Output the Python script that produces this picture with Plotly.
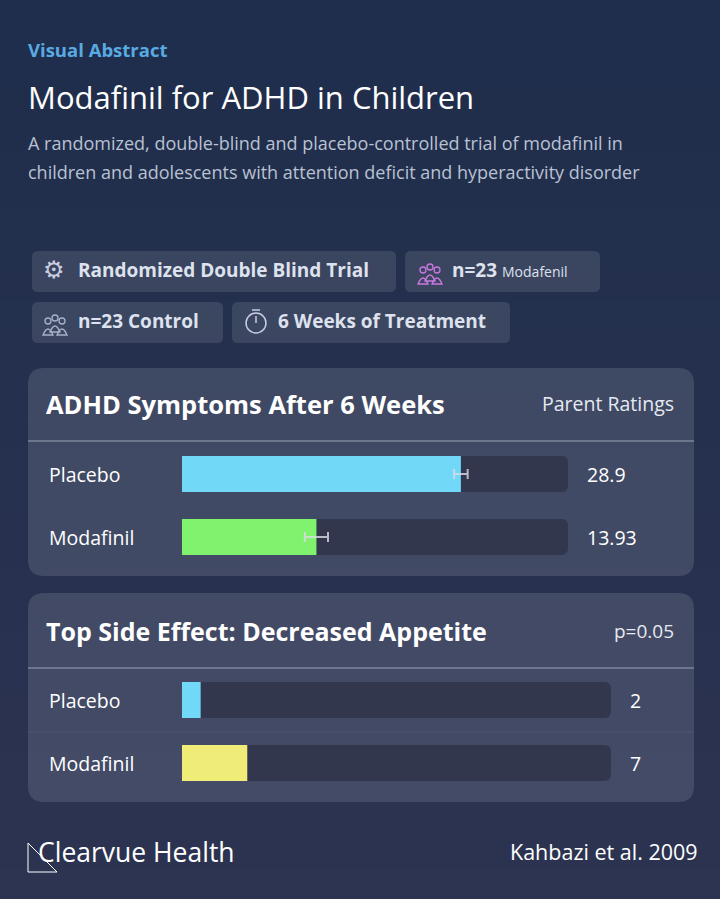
import plotly.graph_objects as go

W, H = 720, 899
groups = ["Placebo", "Modafinil"]
symptom_vals = [28.9, 13.93]
symptom_err = [0.7, 1.2]
symptom_labels = ["28.9", "13.93"]
appetite_vals = [2, 7]
appetite_labels = ["2", "7"]
sym_max = 40
app_max = 46

def px(x): return x / W
def py(y): return 1 - y / H

fig = go.Figure()
sym_colors = ["#72d8f7", "#80f26e"]
app_colors = ["#72d8f7", "#f0ec78"]
track = "rgba(38,40,58,0.55)"

for ax, vals, mx, cols, err in [("", symptom_vals, sym_max, sym_colors, symptom_err),
                                ("2", appetite_vals, app_max, app_colors, None)]:
    fig.add_trace(go.Bar(x=[mx]*2, y=[0, 1], orientation="h", width=0.57,
                         marker=dict(color=track, cornerradius=6, line_width=0),
                         xaxis="x"+ax, yaxis="y"+ax, hoverinfo="skip", showlegend=False))
    fig.add_trace(go.Bar(x=vals, y=[0, 1], orientation="h", width=0.57,
                         marker=dict(color=cols, cornerradius=6, line_width=0),
                         error_x=dict(type="data", array=err, color="rgba(220,220,230,0.8)", thickness=2, width=5) if err else None,
                         xaxis="x"+ax, yaxis="y"+ax, showlegend=False))

ax_common = dict(showgrid=False, zeroline=False, showticklabels=False, fixedrange=True)
fig.update_layout(
    width=W, height=H, margin=dict(l=0, r=0, t=0, b=0),
    paper_bgcolor="#263552", plot_bgcolor="rgba(0,0,0,0)", barmode="overlay",
    font=dict(family="Open Sans, Lato, sans-serif", color="white"),
    xaxis=dict(domain=[px(182), px(568)], range=[0, sym_max], anchor="y", **ax_common),
    yaxis=dict(domain=[py(568.5), py(442.5)], range=[1.5, -0.5], anchor="x", **ax_common),
    xaxis2=dict(domain=[px(182), px(611)], range=[0, app_max], anchor="y2", **ax_common),
    yaxis2=dict(domain=[py(794.5), py(668.5)], range=[1.5, -0.5], anchor="x2", **ax_common),
)

shapes = []
for i in range(30):
    t = i / 29
    c = (int(31 + 14*t), int(46 + 6*t), int(76 + 6*t))
    shapes.append(dict(type="rect", xref="paper", yref="paper", x0=0, x1=1,
                       y0=1 - (i+1)/30, y1=1 - i/30, line_width=0, layer="below",
                       fillcolor=f"rgb{c}"))

def rrect(x0, y0, x1, y1, r, fill):
    X0, X1 = px(x0), px(x1)
    rx, ry = r / W, r / H
    Y0, Y1 = py(y1), py(y0)
    path = (f"M {X0+rx},{Y0} L {X1-rx},{Y0} Q {X1},{Y0} {X1},{Y0+ry} L {X1},{Y1-ry} Q {X1},{Y1} {X1-rx},{Y1} "
            f"L {X0+rx},{Y1} Q {X0},{Y1} {X0},{Y1-ry} L {X0},{Y0+ry} Q {X0},{Y0} {X0+rx},{Y0} Z")
    return dict(type="path", xref="paper", yref="paper", path=path, fillcolor=fill, line_width=0, layer="below")

badge_fill = "rgba(255,255,255,0.11)"
for b in [(32, 251, 396, 292), (405, 251, 600, 292), (32, 302, 223, 343), (232, 302, 510, 343)]:
    shapes.append(rrect(*b, 6, badge_fill))
shapes.append(rrect(28, 368, 694, 576, 16, "rgba(255,255,255,0.12)"))
shapes.append(rrect(28, 593, 694, 802, 16, "rgba(255,255,255,0.12)"))
for yy in [441, 668]:
    shapes.append(dict(type="line", xref="paper", yref="paper", x0=px(28), x1=px(694), y0=py(yy), y1=py(yy),
                       line=dict(color="rgba(200,205,220,0.45)", width=1.5)))
shapes.append(dict(type="line", xref="paper", yref="paper", x0=px(28), x1=px(694), y0=py(732), y1=py(732),
                   line=dict(color="rgba(200,205,220,0.1)", width=1)))
shapes.append(dict(type="circle", xref="paper", yref="paper", x0=px(246), x1=px(266), y0=py(333), y1=py(313),
                   line=dict(color="#c8cde0", width=1.5)))
shapes.append(dict(type="line", xref="paper", yref="paper", x0=px(256), x1=px(256), y0=py(323), y1=py(316),
                   line=dict(color="#c8cde0", width=1.5)))
shapes.append(dict(type="line", xref="paper", yref="paper", x0=px(252), x1=px(260), y0=py(310), y1=py(310),
                   line=dict(color="#c8cde0", width=1.5)))
def people(cx, cy, col):
    out = []
    for dx, dy in [(-7, 2), (0, -1), (7, 2)]:
        out.append(dict(type="circle", xref="paper", yref="paper", x0=px(cx+dx-3), x1=px(cx+dx+3),
                        y0=py(cy+dy-3), y1=py(cy+dy-9), line=dict(color=col, width=1.3)))
        out.append(dict(type="path", xref="paper", yref="paper",
                        path=f"M {px(cx+dx-5)},{py(cy+dy+8)} Q {px(cx+dx)},{py(cy+dy-4)} {px(cx+dx+5)},{py(cy+dy+8)} Z",
                        line=dict(color=col, width=1.3)))
    return out
shapes += people(430, 274, "#c879e0")
shapes += people(55, 325, "#a9b1c6")
shapes.append(dict(type="path", xref="paper", yref="paper",
                   path=f"M {px(28)},{py(843)} L {px(28)},{py(872)} L {px(57)},{py(872)} Z",
                   line=dict(color="white", width=1)))
fig.update_layout(shapes=shapes)

ann = []
def T(x, y, s, size, color="white", anchor="left", family=None):
    d = dict(x=px(x), y=py(y), xref="paper", yref="paper", text=s, showarrow=False,
             xanchor=anchor, yanchor="middle", font=dict(size=size, color=color))
    if family: d["font"]["family"] = family
    ann.append(d)

T(26, 49, "<b>Visual Abstract</b>", 18.5, "#5aaae2")
T(26, 97, "Modafinil for ADHD in Children", 31)
T(26, 143, "A randomized, double-blind and placebo-controlled trial of modafinil in", 18, "#b9c1d2")
T(26, 172, "children and adolescents with attention deficit and hyperactivity disorder", 18, "#b9c1d2")
T(41, 270, "⚙", 24, "#c8cde0", family="DejaVu Sans")
T(76, 270, "<b>Randomized Double Blind Trial</b>", 19, "#dde2ee")
T(450, 270, "<b>n=23</b> <span style='font-size:14px'>Modafenil</span>", 19, "#dde2ee")
T(76, 321, "<b>n=23 Control</b>", 19, "#dde2ee")
T(276, 321, "<b>6 Weeks of Treatment</b>", 19, "#dde2ee")
T(44, 404, "<b>ADHD Symptoms After 6 Weeks</b>", 25.5)
T(676, 404, "Parent Ratings", 19.5, "#e6e9f2", anchor="right")
T(44, 631, "<b>Top Side Effect: Decreased Appetite</b>", 25)
T(676, 631, "p=0.05", 19, "#e6e9f2", anchor="right")
for i, g in enumerate(groups):
    T(47, [474, 537][i], g, 19.5)
    T(585, [474, 537][i], symptom_labels[i], 19.5)
    T(47, [700, 763][i], g, 19.5)
    T(628, [700, 763][i], appetite_labels[i], 19.5)
T(36, 852, "Clearvue Health", 26.5)
T(700, 851, "Kahbazi et al. 2009", 21.5, anchor="right")
fig.update_layout(annotations=ann)

html = fig.to_html(include_plotlyjs=True, full_html=True, config={"displayModeBar": False})
html = html.replace("<head>", "<head><style>html,body{margin:0;padding:0;overflow:hidden;background:#263552}</style>", 1)
with open("out.html", "w", encoding="utf-8") as f:
    f.write(html)
if False:
    fig.write_html("out.html")
